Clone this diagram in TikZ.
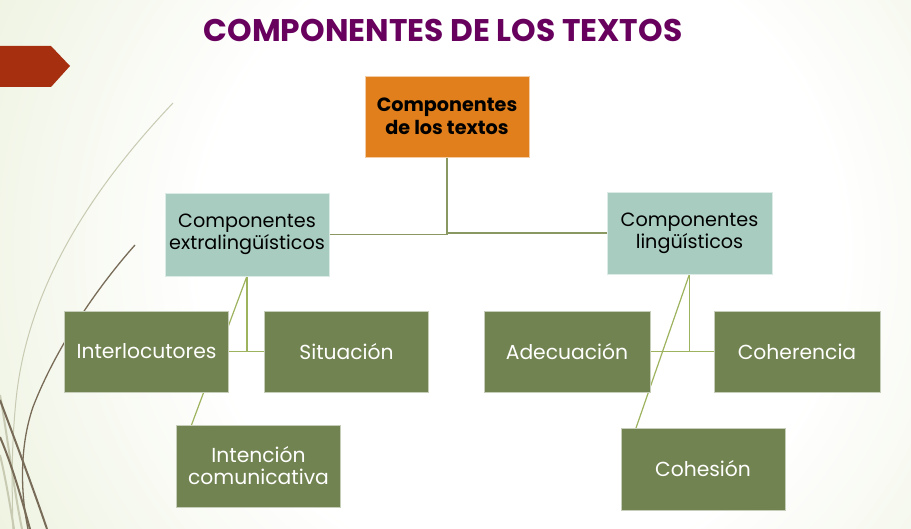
\documentclass[tikz,border=0pt]{standalone}
\usepackage{fontspec}
\setmainfont{Poppins}
\usetikzlibrary{calc}
\definecolor{bgc}{RGB}{218,229,190}
\definecolor{titlec}{RGB}{104,0,94}
\definecolor{redc}{RGB}{165,47,15}
\definecolor{orangec}{RGB}{224,127,27}
\definecolor{tealc}{RGB}{168,204,191}
\definecolor{olivec}{RGB}{113,131,80}
\definecolor{topline}{RGB}{138,152,98}
\definecolor{lowline}{RGB}{157,179,94}
\definecolor{decodark}{RGB}{120,108,88}
\definecolor{decolight}{RGB}{200,202,178}
\pgfdeclareradialshading{bgshade}{\pgfpoint{0bp}{0bp}}{color(0bp)=(white); color(8bp)=(white); color(23bp)=(bgc); color(50bp)=(bgc)}
\pgfdeclarelayer{bglayer}
\pgfdeclarelayer{lineslayer}
\pgfsetlayers{bglayer,lineslayer,main}
\tikzset{
  box/.style={rectangle, minimum width=164pt, minimum height=81pt, inner sep=0pt, outer sep=0pt, align=center, draw=white!60!#1, line width=0.8pt, fill=#1, font=\fontsize{20.3}{22}\selectfont},
  topbox/.style={box=orangec, text=black, font=\fontsize{19.2}{23}\selectfont\bfseries},
  midbox/.style={box=tealc, text=black, minimum height=83pt, font=\fontsize{19.2}{22}\selectfont},
  lowbox/.style={box=olivec, text=white},
  topconn/.style={draw=topline, line width=1.3pt},
  lowconn/.style={draw=lowline, line width=1.2pt},
}
\begin{document}
\begin{tikzpicture}[x=1pt,y=-1pt]
\useasboundingbox (0,0) rectangle (911,529);
% nodes
\node[topbox] (top) at (447,116.5) {Componentes\\de los textos};
\node[midbox] (extra) at (247,234.5) {Componentes\\extralingüísticos};
\node[midbox, minimum width=165pt, minimum height=82pt] (ling) at (689.5,233) {Componentes\\lingüísticos};
\node[lowbox] (inter) at (146.5,351.5) {Interlocutores};
\node[lowbox] (sit) at (346.5,351.5) {Situación};
\node[lowbox, minimum height=82pt] (inten) at (258.5,466) {Intención\\comunicativa};
\node[lowbox, minimum width=166pt] (adec) at (567,351.5) {Adecuación};
\node[lowbox, minimum width=166pt] (coher) at (797,351.5) {Coherencia};
\node[lowbox, minimum height=82pt] (cohes) at (703,469) {Cohesión};
\node[text=titlec, font=\fontsize{31.3}{36}\selectfont\bfseries] (title) at (443,30) {COMPONENTES DE LOS TEXTOS};
% connectors
\begin{pgfonlayer}{lineslayer}
\draw[topconn] (extra.east) -| (top.south);
\draw[topconn] (ling.west) -| (top.south);
\coordinate (lj) at (extra.south |- inter.east);
\draw[lowconn] (extra.south) -- (lj);
\draw[lowconn] (inter.east) -- (sit.west);
\coordinate (intentop) at ($(inten.north west)+(15,0)$);
\draw[lowconn] (extra.south) -- (intentop);
\coordinate (rj) at (ling.south |- adec.east);
\draw[lowconn] (ling.south) -- (rj);
\draw[lowconn] (adec.east) -- (coher.west);
\coordinate (cohestop) at ($(cohes.north west)+(15,0)$);
\draw[lowconn] (ling.south) -- (cohestop);
\end{pgfonlayer}
% background
\begin{pgfonlayer}{bglayer}
\fill[bgc] (0,0) rectangle (911,529);
\begin{scope}
\clip (0,0) rectangle (911,529);
\shade[shading=bgshade] (520,250) circle (1000);
\end{scope}
\fill[redc] (0,46) -- (51,46) -- (70,66) -- (51,87) -- (0,87) -- cycle;
\draw[decolight, line width=1pt] (173,103) .. controls (100,180) and (28,280) .. (16,400) .. controls (11,450) and (12,490) .. (13,529);
\draw[decolight, line width=2pt] (0,395) .. controls (8,440) and (14,490) .. (22,529);
\draw[decolight, line width=2pt] (0,455) .. controls (6,480) and (10,505) .. (14,529);
\draw[decodark, line width=1.3pt] (135,245) .. controls (95,290) and (55,350) .. (33,407) .. controls (20,445) and (20,490) .. (28,529);
\draw[decodark, line width=2pt] (0,400) .. controls (15,440) and (32,485) .. (47,529);
\draw[decodark, line width=2pt] (0,437) .. controls (12,465) and (22,500) .. (30,529);
\end{pgfonlayer}
\end{tikzpicture}
\end{document}
